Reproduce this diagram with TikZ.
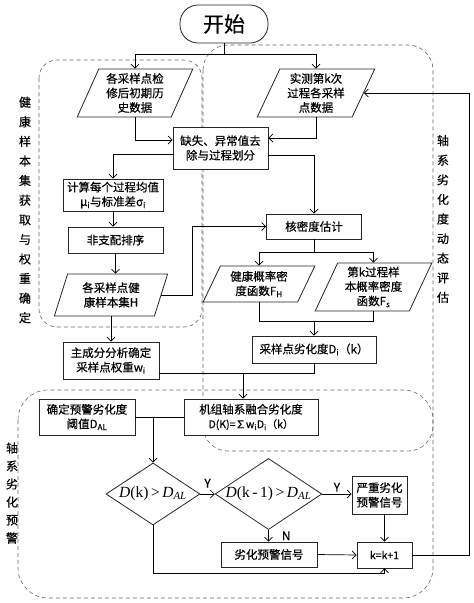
\documentclass[tikz,border=0pt]{standalone}
\usepackage{fontspec}
\setmainfont{Noto Sans CJK SC}[UprightFeatures={FakeBold=0.4}]
\newfontfamily\serifmath{Liberation Serif}
\usetikzlibrary{shapes.geometric,arrows.meta,calc}
\begin{document}
\begin{tikzpicture}[x=1pt,y=-1pt]
\tikzset{
 box/.style={draw=black!85, line width=0.8pt, fill=white, rectangle, align=center, inner sep=1pt, font=\fontsize{11.5}{14.5}\selectfont},
 para/.style={box, trapezium, trapezium stretches=true},
 dec/.style={draw=black!85, line width=0.8pt, fill=white, diamond, inner sep=0pt, aspect=1.5, font=\serifmath\fontsize{15.5}{15.5}\selectfont},
 arr/.style={draw=black, line width=0.7pt, -{Straight Barb[length=4pt,width=8pt]}},
 ln/.style={draw=black, line width=0.7pt},
 region/.style={draw=black!60, line width=0.6pt, dash pattern=on 4pt off 3pt},
 side/.style={align=center, font=\fontsize{12}{19.6}\selectfont, inner sep=0pt},
 yn/.style={font=\fontsize{12}{12}\selectfont, inner sep=1pt}
}
\useasboundingbox (0,0) rectangle (474,603);
% dashed regions
\draw[region, rounded corners=18pt] (39,60) rectangle (202,327);
\draw[region, rounded corners=25pt] (203,45) rectangle (433,451);
\draw[region, rounded corners=30pt] (18,390) rectangle (433,598);
% side labels
\node[side] (la) at (25,210) {健\\康\\样\\本\\集\\获\\取\\与\\权\\重\\确\\定};
\node[side] (lb) at (443,219) {轴\\系\\劣\\化\\度\\动\\态\\评\\估};
\node[side, font=\fontsize{12}{18}\selectfont] (lc) at (12,493) {轴\\系\\劣\\化\\预\\警};
% nodes
\node[box, rounded corners=18pt, minimum width=88pt, minimum height=38pt, font=\fontsize{21}{21}\selectfont] (start) at (224,24) {开始};
\node[para, trapezium left angle=67, trapezium right angle=113, minimum width=116pt, minimum height=48pt] (p1) at (135,93) {各采样点检\\修后初期历\\史数据};
\node[para, trapezium left angle=66, trapezium right angle=114, minimum width=118pt, minimum height=48pt] (p2) at (316,93) {实测第k次\\过程各采样\\点数据};
\node[box, minimum width=95pt, minimum height=42pt] (clean) at (220.5,148) {缺失、异常值去\\除与过程划分};
\node[box, minimum width=100pt, minimum height=32pt] (calc) at (113,195) {计算每个过程均值\\μ\textsubscript{i}与标准差σ\textsubscript{i}};
\node[box, minimum width=95pt, minimum height=26pt] (nondom) at (115.5,240) {非支配排序};
\node[para, trapezium left angle=71.6, trapezium right angle=108.4, minimum width=114pt, minimum height=42pt] (p3) at (111,295) {各采样点健\\康样本集H};
\node[box, minimum width=95pt, minimum height=25pt] (kde) at (314,226.5) {核密度估计};
\node[para, trapezium left angle=64.7, trapezium right angle=115.3, minimum width=112pt, minimum height=36pt] (p4) at (259,284) {健康概率密\\度函数F\textsubscript{H}};
\node[para, trapezium left angle=66.4, trapezium right angle=113.6, minimum width=117pt, minimum height=48pt] (p5) at (373.5,287) {第k过程样\\本概率密度\\函数F\textsubscript{s}};
\node[box, minimum width=124pt, minimum height=27pt] (di) at (314,349.5) {采样点劣化度D\textsubscript{i}（k）};
\node[box, minimum width=96pt, minimum height=37pt] (pca) at (111,360.5) {主成分分析确定\\采样点权重w\textsubscript{i}};
\node[box, minimum width=96pt, minimum height=36pt] (thr) at (87,417) {确定预警劣化度\\阈值D\textsubscript{AL}};
\node[box, minimum width=134pt, minimum height=36pt] (fuse) at (251,417) {机组轴系融合劣化度\\{\fontsize{10.5}{13}\selectfont D(K)=∑w\textsubscript{i}D\textsubscript{i}（k）}};
\node[dec, minimum width=94pt, minimum height=62pt] (d1) at (153,494) {\textit{D}(k)\,>\,\textit{D}\textsubscript{\textit{AL}}};
\node[dec, minimum width=103pt, minimum height=68pt] (d2) at (268.5,494) {\textit{D}(k\,-\,1)\,>\,\textit{D}\textsubscript{\textit{AL}}};
\node[box, minimum width=55pt, minimum height=38pt] (severe) at (379.5,495) {严重劣化\\预警信号};
\node[box, minimum width=96pt, minimum height=25pt] (warn) at (269,554.5) {劣化预警信号};
\node[box, minimum width=55pt, minimum height=26pt, font=\fontsize{10.5}{12}\selectfont] (kk) at (384.5,555) {k=k+1};
% helper coordinates
\coordinate (p1top) at (p1.north -| p1.center);
\coordinate (p2top) at (p2.north -| p2.center);
\coordinate (j0) at ($(start.south)+(0,11)$);
\coordinate (b1) at (192,0);
\coordinate (j1) at ($(kde.south)+(0,13)$);
\coordinate (j2) at ($(di.north)+(0,-14)$);
\coordinate (j3) at (243,373);
\coordinate (rr) at (469,0);
% connectors
\draw[ln] (start.south) -- (j0);
\draw[arr] (j0) -| (p1top);
\draw[arr] (j0) -| (p2top);
\draw[arr] (p1.south -| p1.center) |- ($(clean.west)+(0,-8)$);
\draw[arr] (p2.south -| p2.center) |- ($(clean.east)+(0,-10)$);
\draw[arr] ($(clean.west)+(0,6)$) -| (calc.north);
\draw[arr] ($(clean.east)+(0,7)$) -| (kde.north);
\draw[arr] (calc.south) -- (calc.south |- nondom.north);
\draw[arr] (nondom.south) -- (nondom.south |- p3.north);
\draw[arr] (p3.south -| pca.north) -- (pca.north);
\draw[arr] (p3.east) -| (b1 |- kde.west) -- (kde.west);
\draw[ln] (kde.south) -- (j1);
\draw[arr] (j1) -| (p4.north);
\draw[arr] (j1) -| (p5.north);
\draw[ln] (p4.south -| p4.north) |- (j2) -| (p5.south -| p5.north);
\draw[arr] (j2) -- (di.north);
\draw[ln] (di.south) |- (j3);
\draw[ln] (pca.east |- j3) -- (j3);
\draw[arr] (j3) -- (j3 |- fuse.north);
\draw[ln] (thr.east) -- (fuse.west);
\draw[arr] (d1.north |- thr.east) -- (d1.north);
\draw[arr] (d1.east) -- node[yn, above=5pt] (ly1) {Y} (d2.west);
\draw[arr] (d2.east) -- node[yn, above=1pt] (ly2) {Y} (severe.west |- d2.east);
\draw[arr] (severe.south -| kk.north) -- (kk.north);
\draw[arr] (d2.south) -- node[yn, right=12pt] (ln1) {N} (d2.south |- warn.north);
\draw[arr] (warn.east) -- (kk.west);
\draw[arr] (d1.south) |- ($(kk.south)+(0,5)$) -- (kk.south);
\draw[arr] (kk.east) -| (rr |- p2.east) -- (p2.east);
\end{tikzpicture}
\end{document}
